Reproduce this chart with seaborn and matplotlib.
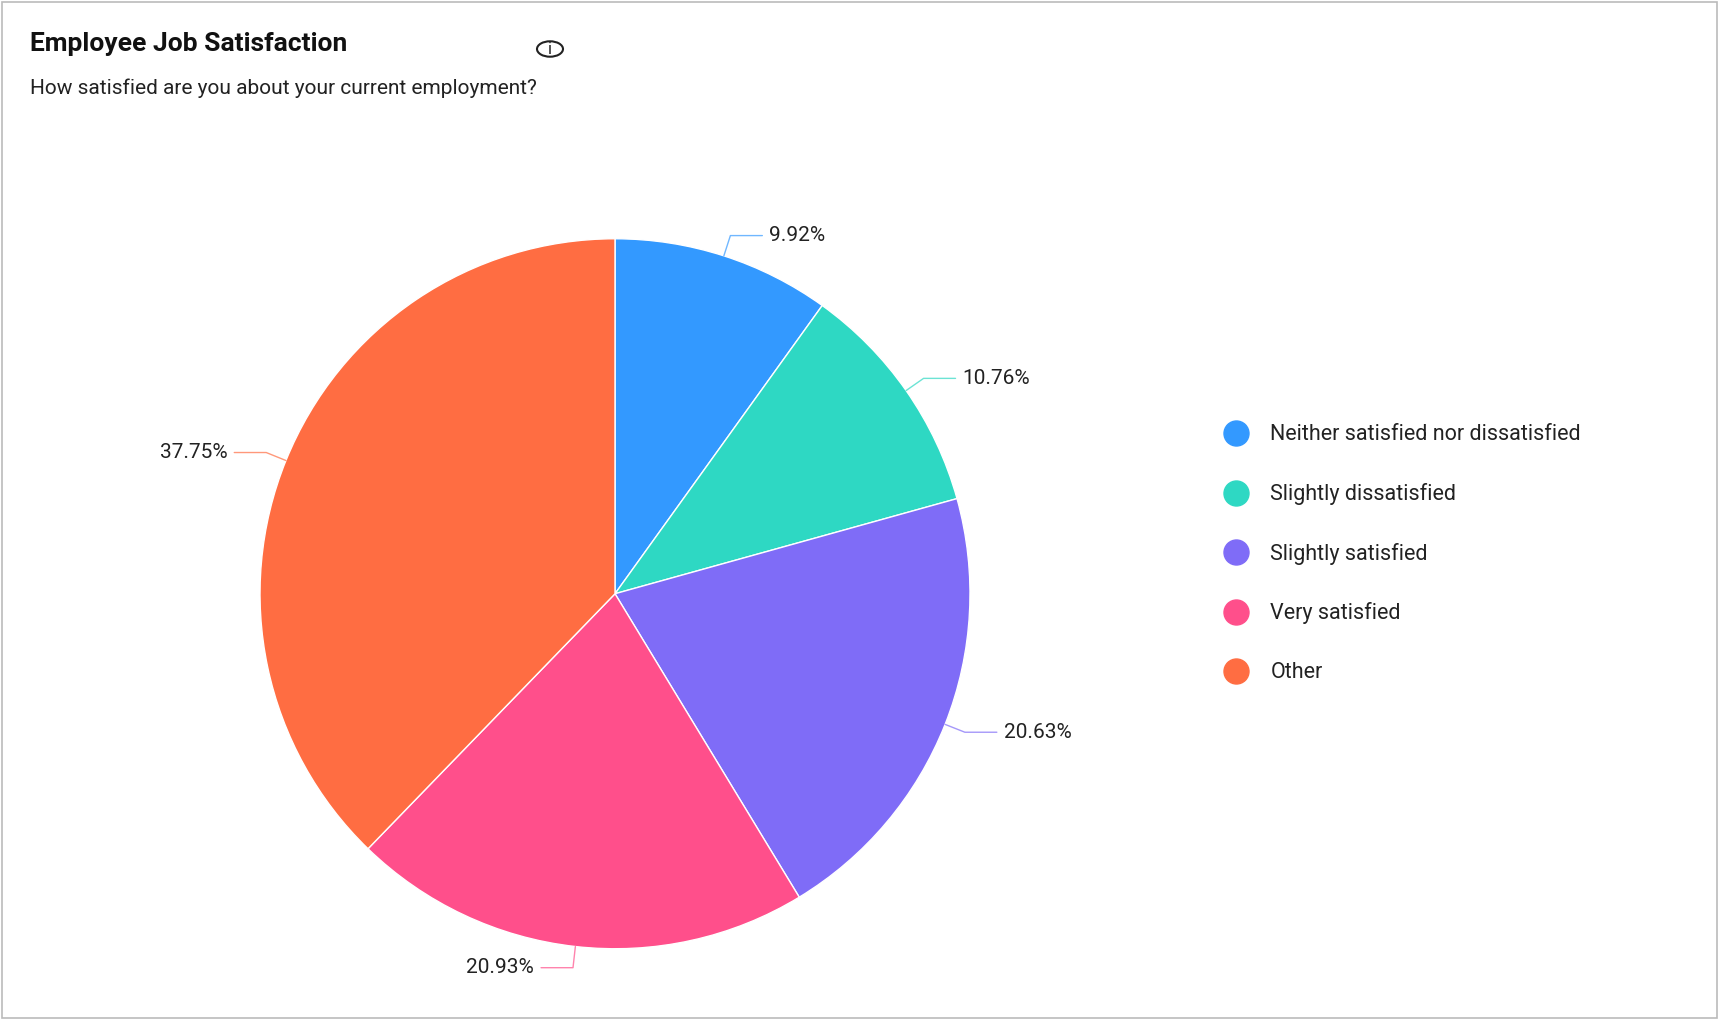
import numpy as np
import matplotlib
matplotlib.use("Agg")
import matplotlib.pyplot as plt
import seaborn as sns
from matplotlib.patches import Circle, Rectangle
from matplotlib.lines import Line2D

sns.set_theme(style="white")
plt.rcParams['font.family'] = ['Roboto', 'DejaVu Sans']

categories = ["Neither satisfied nor dissatisfied", "Slightly dissatisfied",
              "Slightly satisfied", "Very satisfied", "Other"]
values = [9.92, 10.76, 20.63, 20.93, 37.75]
colors = ["#3399FF", "#2ED8C3", "#7F6CF7", "#FF4F8B", "#FF6D42"]

W, H = 1719, 1019
fig = plt.figure(figsize=(W/100, H/100), dpi=100)
fig.patches.append(Rectangle((0.001, 0.001), 0.998, 0.997, transform=fig.transFigure,
                             fill=False, edgecolor="#BBBBBB", lw=1.2))

ax = fig.add_axes([47/W, 17/H, 1136/W, 887.5/H])
wedges, _ = ax.pie(values, colors=colors, startangle=90, counterclock=False,
                   wedgeprops=dict(edgecolor="white", linewidth=1))
ax.set_xlim(-1.6, 1.6)
ax.set_ylim(-1.15, 1.35)
ax.set_aspect("equal")
ax.axis("off")

total = sum(values)
cum = 0
for v, c, w in zip(values, colors, wedges):
    mid = 90 - (cum + v / 2) / total * 360
    cum += v
    a = np.deg2rad(mid)
    x0, y0 = np.cos(a), np.sin(a)
    x1, y1 = 1.06 * x0, 1.06 * y0
    s = 1 if x0 >= 0 else -1
    x2 = x1 + s * 0.09
    ax.plot([x0, x1, x2], [y0, y1, y1], color=c, lw=1, alpha=0.7, clip_on=False)
    ax.text(x2 + s * 0.02, y1, f"{v:.2f}%", ha="left" if s > 0 else "right",
            va="center", fontsize=15, color="#222222")

handles = [Line2D([], [], marker="o", ls="", markersize=18, markerfacecolor=c,
                  markeredgecolor=c) for c in colors]
fig.legend(handles, categories, loc="upper left", bbox_to_anchor=(1195/W, 1 - 405/H),
           frameon=False, fontsize=15.5, labelspacing=1.75, handletextpad=0.6,
           labelcolor="#222222")

fig.text(30/W, 1 - 44/H, "Employee Job Satisfaction", fontsize=19, fontweight="bold",
         va="center", ha="left", color="#111111")
fig.patches.append(Circle((550/W, 1 - 49/H), 13/W, transform=fig.transFigure,
                          fill=False, edgecolor="#222222", lw=1.5))
fig.text(550/W, 1 - 50/H, "i", fontsize=12, ha="center", va="center", color="#222222")
fig.text(30/W, 1 - 88/H, "How satisfied are you about your current employment?",
         fontsize=15, va="center", ha="left", color="#222222")

fig.savefig("out.png", dpi=100)
